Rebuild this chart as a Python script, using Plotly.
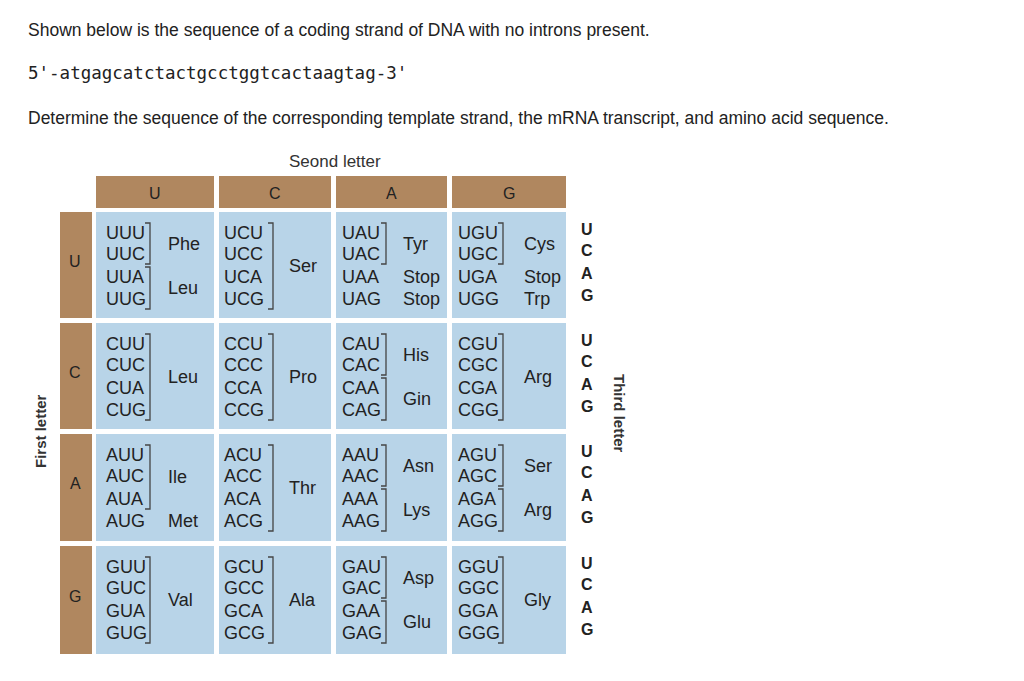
import plotly.graph_objects as go

bases = ["U", "C", "A", "G"]
title_lines = ["Shown below is the sequence of a coding strand of DNA with no introns present.",
               "5'-atgagcatctactgcctggtcactaagtag-3'",
               "Determine the sequence of the corresponding template strand, the mRNA transcript, and amino acid sequence."]
# amino acid groups per [first letter][second letter]: (label, first idx, last idx)
groups = {
 ("U","U"): [("Phe",0,1),("Leu",2,3)], ("U","C"): [("Ser",0,3)],
 ("U","A"): [("Tyr",0,1),("Stop",2,2),("Stop",3,3)], ("U","G"): [("Cys",0,1),("Stop",2,2),("Trp",3,3)],
 ("C","U"): [("Leu",0,3)], ("C","C"): [("Pro",0,3)], ("C","A"): [("His",0,1),("Gin",2,3)], ("C","G"): [("Arg",0,3)],
 ("A","U"): [("Ile",0,2),("Met",3,3)], ("A","C"): [("Thr",0,3)], ("A","A"): [("Asn",0,1),("Lys",2,3)], ("A","G"): [("Ser",0,1),("Arg",2,3)],
 ("G","U"): [("Val",0,3)], ("G","C"): [("Ala",0,3)], ("G","A"): [("Asp",0,1),("Glu",2,3)], ("G","G"): [("Gly",0,3)],
}

BROWN = "#b0875f"; BLUE = "#b8d4e8"; TXT = "#222"
FONT = "Liberation Sans, Arial"
col_x = [(96,214),(219,331),(336,447),(452,566)]
row_y = [(212,318),(323,429),(434,541),(546,654)]
codon_x = [104,222,340,456]
brk_x = [150,273,386,503]
lab_x = [166,287,401,522]
line_off = [21,42,65,87]

shapes, ann = [], []
def rect(x0,y0,x1,y1,c):
    shapes.append(dict(type="rect",x0=x0,y0=y0,x1=x1,y1=y1,fillcolor=c,line=dict(width=0),layer="below"))
def text(x,y,t,size=17,xa="left",fam=FONT,color=TXT,angle=0):
    ann.append(dict(x=x,y=y,text=t,showarrow=False,xanchor=xa,yanchor="middle",
                    font=dict(family=fam,size=size,color=color),textangle=angle))

text(26,30,title_lines[0],17.5)
text(26,73,title_lines[1],17.5,fam="DejaVu Sans Mono, Liberation Mono")
text(26,118,title_lines[2],17.5)
text(335,161,"Seond letter",17,xa="center",color="#333")
text(40,431,"<b>First letter</b>",15,xa="center",color="#333",angle=-90)
text(620,413,"<b>Third letter</b>",15,xa="center",color="#333",angle=90)

for j,b in enumerate(bases):
    rect(col_x[j][0],176,col_x[j][1],208,BROWN)
    text((col_x[j][0]+col_x[j][1])/2,193,b,16,xa="center")
for i,f in enumerate(bases):
    y0,y1 = row_y[i]
    rect(60,y0,92,y1,BROWN)
    text(75,(y0+y1)/2-4,f,16,xa="center")
    for j,s in enumerate(bases):
        rect(col_x[j][0],y0,col_x[j][1],y1,BLUE)
        for k,t in enumerate(bases):
            text(codon_x[j],y0+line_off[k],f+s+t,18)
        for lab,a,bb in groups[(f,s)]:
            ya = y0+line_off[a]; yb = y0+line_off[bb]
            if bb > a:
                bx = brk_x[j]
                shapes.append(dict(type="path",path=f"M {bx-5},{ya-10} L {bx},{ya-10} L {bx},{yb+10} L {bx-5},{yb+10}",
                                   line=dict(color="#444",width=1.3)))
            text(lab_x[j],(ya+yb)/2,lab,18)
    for k,t in enumerate(bases):
        text(587,y0+line_off[k]-4,"<b>"+t+"</b>",16,xa="center")

fig = go.Figure()
fig.update_layout(width=1024,height=681,margin=dict(l=0,r=0,t=0,b=0),
                  paper_bgcolor="white",plot_bgcolor="white",shapes=shapes,annotations=ann,
                  xaxis=dict(range=[8,1032],visible=False,fixedrange=True),
                  yaxis=dict(range=[689,8],visible=False,fixedrange=True),showlegend=False)
fig.write_html("out.html")
